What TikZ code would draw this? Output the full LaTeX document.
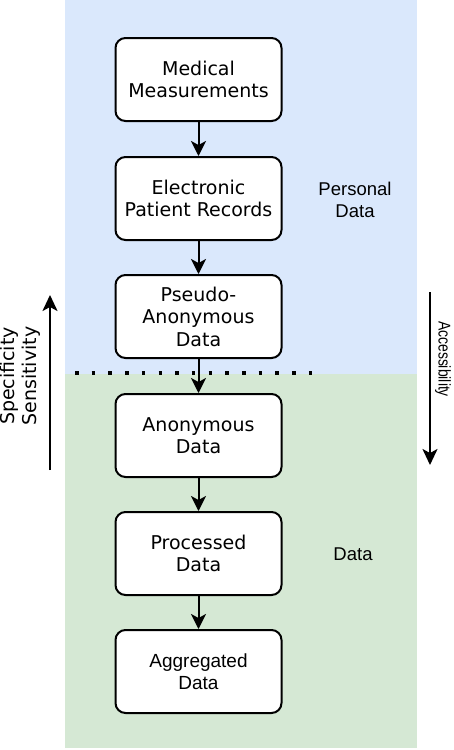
\documentclass[tikz,border=0pt]{standalone}
\usepackage{fontspec}
\newfontfamily\dvfont{DejaVu Sans}
\newfontfamily\lsfont{Liberation Sans}
\usetikzlibrary{arrows.meta}
\definecolor{bgblue}{HTML}{DAE8FC}
\definecolor{bggreen}{HTML}{D5E8D4}
\begin{document}
\begin{tikzpicture}[x=1pt,y=-1pt,
  box/.style={draw=black, line width=2pt, rounded corners=10pt, fill=white,
    minimum width=166pt, minimum height=83pt, align=center, inner sep=0pt,
    font=\dvfont\fontsize{19}{22.5}\selectfont},
  flow/.style={-{Stealth[length=15pt,width=15pt,inset=4pt]}, line width=2pt},
  side/.style={-{Stealth[length=16pt,width=15pt,inset=4pt]}, line width=2pt},
  lbl/.style={align=center, font=\lsfont\fontsize{18.5}{22}\selectfont},
  sep/.style={line width=3.5pt, dash pattern=on 3.5pt off 13.2pt}]
\useasboundingbox (0,0) rectangle (454,750);
\fill[bgblue] (65,0) rectangle (417,374);
\fill[bggreen] (65,374) rectangle (417,748);
\coordinate (s1) at (75,373);
\coordinate (s2) at (312,373);
\draw[sep] (s1) -- (s2);
\node[box] (m) at (198.5,79.5) {Medical\\Measurements};
\node[box] (e) at (198.5,198.5) {Electronic\\Patient Records};
\node[box] (p) at (198.5,316.5) {Pseudo-\\Anonymous\\Data};
\node[box] (a) at (198.5,435.5) {Anonymous\\Data};
\node[box] (pr) at (198.5,553.5) {Processed\\Data};
\node[box, font=\lsfont\fontsize{19}{22.5}\selectfont] (ag) at (198.5,671.5) {Aggregated\\Data};
\draw[flow] (m) -- (e);
\draw[flow] (e) -- (p);
\draw[flow] (p) -- (a);
\draw[flow] (a) -- (pr);
\draw[flow] (pr) -- (ag);
\node[lbl] (pd) at (355,200) {Personal\\Data};
\node[lbl] (d) at (353,554) {Data};
\coordinate (l1) at (50,470);
\coordinate (l2) at (50,295);
\draw[side] (l1) -- (l2);
\node[rotate=90, align=center, font=\dvfont\fontsize{19}{22}\selectfont] (ss) at (20,376) {Specificity\\Sensitivity};
\coordinate (r1) at (430,292);
\coordinate (r2) at (430,465);
\draw[side] (r1) -- (r2);
\node[rotate=-90, inner sep=0pt, font=\lsfont\fontsize{17}{20}\selectfont] (acc) at (443,359) {\scalebox{0.82}[1]{Accessibility}};
\end{tikzpicture}
\end{document}
